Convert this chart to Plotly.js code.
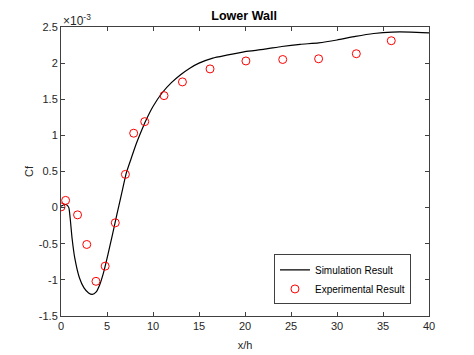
<!DOCTYPE html>
<html>
<head>
<meta charset="utf-8">
<script src="https://cdn.plot.ly/plotly-3.0.1.min.js"></script>
<style>html,body{margin:0;padding:0;background:#fff;}#chart{width:474px;height:355px;}</style>
</head>
<body>
<div id="chart"></div>
<script>
// Cf values are in units of 1e-3 (axis shows ×10^-3)
var simX = [0, 0.3, 0.6, 0.85, 1.0, 1.2, 1.5, 2.0, 2.5, 3.0, 3.4, 3.8, 4.2, 4.6, 5.1, 5.6, 6.1, 6.6, 7.1, 7.6, 8.2, 8.7, 9.2, 10.0, 11.0, 12.0, 13.0, 14.0, 15.0, 16.5, 18.0, 20.0, 22.0, 24.0, 26.0, 28.0, 30.0, 32.0, 34.0, 36.0, 38.0, 40.0];
var simCf = [0.02, 0.04, 0.04, 0.0, -0.15, -0.42, -0.70, -0.97, -1.11, -1.18, -1.20, -1.17, -1.07, -0.91, -0.65, -0.37, -0.08, 0.20, 0.48, 0.67, 0.89, 1.05, 1.20, 1.40, 1.59, 1.73, 1.84, 1.93, 2.00, 2.07, 2.11, 2.16, 2.19, 2.23, 2.26, 2.28, 2.32, 2.37, 2.41, 2.43, 2.43, 2.42];
var expX = [0, 0.5, 1.8, 2.8, 3.8, 4.8, 5.9, 7.0, 7.9, 9.1, 11.2, 13.2, 16.2, 20.1, 24.1, 28.0, 32.1, 35.9];
var expCf = [0.01, 0.10, -0.10, -0.51, -1.02, -0.81, -0.21, 0.46, 1.03, 1.19, 1.55, 1.74, 1.92, 2.03, 2.05, 2.06, 2.13, 2.31];
var xTicks = [0, 5, 10, 15, 20, 25, 30, 35, 40];
var yTicks = [-1.5, -1, -0.5, 0, 0.5, 1, 1.5, 2, 2.5];

var axisColor = '#404040';
var font = {family: 'Liberation Sans, Arial, sans-serif', size: 11, color: '#262626'};

var traces = [
  {x: simX, y: simCf, mode: 'lines', name: 'Simulation Result',
   line: {color: '#000000', width: 1.2, shape: 'spline', smoothing: 0.5}},
  {x: expX, y: expCf, mode: 'markers', name: 'Experimental Result',
   marker: {symbol: 'circle-open', size: 8, color: '#ff0000', line: {width: 1, color: '#ff0000'}}}
];

var layout = {
  width: 474, height: 355,
  margin: {l: 61, r: 45, t: 27, b: 39},
  paper_bgcolor: '#ffffff', plot_bgcolor: '#ffffff',
  font: font,
  showlegend: true,
  title: {text: '<b>Lower Wall</b>', font: {family: 'Liberation Sans, Arial, sans-serif', size: 12.5, color: '#000'},
          x: 0.515, xanchor: 'center', y: 0.955, yanchor: 'middle'},
  xaxis: {range: [0, 40], tickvals: xTicks, ticktext: xTicks.map(String),
          showgrid: false, zeroline: false, showline: true, linecolor: axisColor, linewidth: 1, mirror: 'ticks',
          ticks: 'inside', ticklen: 4, tickcolor: axisColor, tickfont: font,
          title: {text: 'x/h', font: font, standoff: 10}},
  yaxis: {range: [-1.5, 2.5], tickvals: yTicks, ticktext: yTicks.map(String),
          showgrid: false, zeroline: false, showline: true, linecolor: axisColor, linewidth: 1, mirror: 'ticks',
          ticks: 'inside', ticklen: 4, tickcolor: axisColor, tickfont: font,
          title: {text: 'Cf', font: font, standoff: 2}},
  legend: {x: 0.951, xanchor: 'right', y: 0.04, yanchor: 'bottom',
           bgcolor: '#ffffff', bordercolor: axisColor, borderwidth: 1,
           font: {family: 'Liberation Sans, Arial, sans-serif', size: 10, color: '#000'},
           tracegroupgap: 0, itemwidth: 30},
  annotations: [{xref: 'paper', yref: 'paper', x: 0, y: 1, xanchor: 'left', yanchor: 'bottom',
                 text: '×10<sup>-3</sup>', showarrow: false,
                 font: {family: 'Liberation Sans, Arial, sans-serif', size: 12, color: '#262626'}, xshift: 0, yshift: -3}]
};

Plotly.newPlot('chart', traces, layout, {displayModeBar: false, staticPlot: true});
</script>
</body>
</html>
